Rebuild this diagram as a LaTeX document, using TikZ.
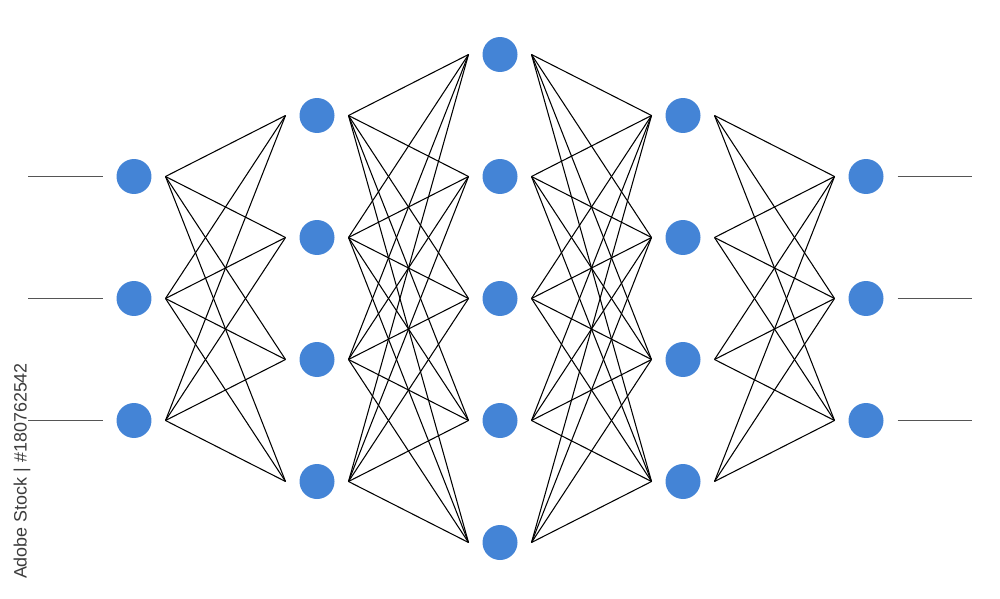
\documentclass[tikz,border=0pt]{standalone}
\usepackage{fontspec}
\setmainfont{Liberation Sans}
\definecolor{nnblue}{RGB}{68,132,214}
\definecolor{ingray}{RGB}{85,85,85}
\definecolor{markgray}{RGB}{60,60,60}

\begin{document}
\begin{tikzpicture}[x=0.02cm, y=-0.02cm, line join=miter, line width=0.6pt]

	\tikzstyle{neuron}=[circle, fill=nnblue, minimum size=0.7cm, inner sep=0pt, outer sep=0.28cm]
	\tikzstyle{io}=[ingray, line width=0.9pt]
    \def\cy{298.5}
    \def\dy{122}

    \useasboundingbox (0,0) rectangle (1000,598);

    % neurons, layer by layer
    \foreach \i in {1,...,3} \node[neuron] (a\i) at (134, {\cy+(\i-2)*\dy}) {};
    \foreach \i in {1,...,4} \node[neuron] (b\i) at (317, {\cy+(\i-2.5)*\dy}) {};
    \foreach \i in {1,...,5} \node[neuron] (c\i) at (500, {\cy+(\i-3)*\dy}) {};
    \foreach \i in {1,...,4} \node[neuron] (d\i) at (683, {\cy+(\i-2.5)*\dy}) {};
    \foreach \i in {1,...,3} \node[neuron] (e\i) at (866, {\cy+(\i-2)*\dy}) {};

    % weights
    \foreach \i in {1,...,3} \foreach \j in {1,...,4} \draw (a\i.east) -- (b\j.west);
    \foreach \i in {1,...,4} \foreach \j in {1,...,5} \draw (b\i.east) -- (c\j.west);
    \foreach \i in {1,...,5} \foreach \j in {1,...,4} \draw (c\i.east) -- (d\j.west);
    \foreach \i in {1,...,4} \foreach \j in {1,...,3} \draw (d\i.east) -- (e\j.west);

    % inputs and outputs
    \foreach \i in {1,...,3} {
      \coordinate (in\i) at (28, {\cy+(\i-2)*\dy});
      \coordinate (out\i) at (972, {\cy+(\i-2)*\dy});
      \draw[io] (in\i) -- (a\i.west);
      \draw[io] (e\i.east) -- (out\i);
    }

    \node[rotate=90, text=markgray, font=\fontsize{10.2}{12}\selectfont] (mark) at (22,471) {Adobe Stock | \#180762542};

  \end{tikzpicture}
\end{document}
